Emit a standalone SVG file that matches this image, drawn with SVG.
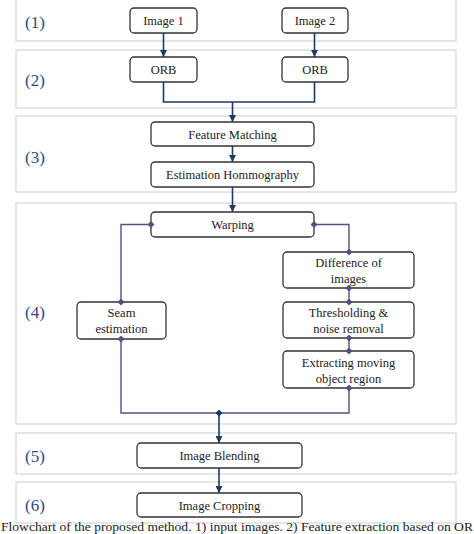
<svg xmlns="http://www.w3.org/2000/svg" width="474" height="534" viewBox="0 0 474 534">
<defs>
<style>
.panel{fill:#ffffff;stroke:#d4d6dc;stroke-width:1.2}
.node{fill:#ffffff;stroke:#333333;stroke-width:1.3}
.t{font-family:"Liberation Serif","Times New Roman",serif;font-size:12.5px;fill:#222222;text-anchor:middle}
.lbl{font-family:"Liberation Serif","Times New Roman",serif;font-size:17px;fill:#2f4b7c}
.arr{fill:none;stroke:#1f3b63;stroke-width:1.6}
.pc{fill:none;stroke:#5e4c80;stroke-width:1.4}
.cap{font-family:"Liberation Serif","Times New Roman",serif;font-size:13.5px;fill:#222222}
</style>
<marker id="ah" viewBox="0 0 10 10" refX="10" refY="5" markerWidth="7" markerHeight="7" markerUnits="userSpaceOnUse" orient="auto">
<path d="M0,0 L10,5 L0,10 z" fill="#1f3b63"/>
</marker>
<marker id="dm" viewBox="0 0 10 10" refX="5" refY="5" markerWidth="7" markerHeight="7" markerUnits="userSpaceOnUse" orient="auto">
<path d="M5,0 L10,5 L5,10 L0,5 z" fill="#5e4c80"/>
</marker>
<marker id="dmb" viewBox="0 0 10 10" refX="5" refY="5" markerWidth="7" markerHeight="7" markerUnits="userSpaceOnUse" orient="auto">
<path d="M5,0 L10,5 L5,10 L0,5 z" fill="#1f3b63"/>
</marker>
</defs>
<rect width="474" height="534" fill="#ffffff"/>
<g id="panels">
<rect class="panel" x="16" y="-4" width="440" height="45"/>
<rect class="panel" x="16" y="50" width="440" height="58"/>
<rect class="panel" x="16" y="116" width="440" height="76"/>
<rect class="panel" x="16" y="203" width="440" height="221"/>
<rect class="panel" x="16" y="433" width="440" height="41"/>
<rect class="panel" x="16" y="482" width="440" height="41"/>
<text class="lbl" x="25" y="28">(1)</text>
<text class="lbl" x="25" y="86">(2)</text>
<text class="lbl" x="25" y="163">(3)</text>
<text class="lbl" x="25" y="318">(4)</text>
<text class="lbl" x="25" y="462">(5)</text>
<text class="lbl" x="25" y="511">(6)</text>
</g>
<g id="n-image1"><rect class="node" x="130" y="8" width="67" height="25" rx="4"/><text class="t" x="163.5" y="25">Image  1</text></g>
<g id="n-image2"><rect class="node" x="282" y="8" width="66" height="25" rx="4"/><text class="t" x="315" y="25">Image  2</text></g>
<g id="n-orb1"><rect class="node" x="130" y="57" width="67" height="25" rx="4"/><text class="t" x="163.5" y="74">ORB</text></g>
<g id="n-orb2"><rect class="node" x="282" y="57" width="66" height="25" rx="4"/><text class="t" x="315" y="74">ORB</text></g>
<g id="n-fm"><rect class="node" x="151" y="122" width="163" height="24" rx="4"/><text class="t" x="232.5" y="138.5">Feature  Matching</text></g>
<g id="n-eh"><rect class="node" x="151" y="162" width="163" height="25" rx="4"/><text class="t" x="232.5" y="179">Estimation  Hommography</text></g>
<g id="n-warp"><rect class="node" x="151" y="212" width="163" height="25" rx="4"/><text class="t" x="232.5" y="229">Warping</text></g>
<g id="n-diff"><rect class="node" x="283" y="252" width="131" height="36" rx="4"/><text class="t" x="348.5" y="267">Difference  of</text><text class="t" x="348.5" y="283">images</text></g>
<g id="n-thr"><rect class="node" x="283" y="302" width="131" height="36" rx="4"/><text class="t" x="348.5" y="317">Thresholding  &amp;</text><text class="t" x="348.5" y="333">noise removal</text></g>
<g id="n-ext"><rect class="node" x="283" y="351" width="131" height="37" rx="4"/><text class="t" x="348.5" y="367">Extracting  moving</text><text class="t" x="348.5" y="383">object region</text></g>
<g id="n-seam"><rect class="node" x="77" y="302" width="89" height="37" rx="4"/><text class="t" x="121.5" y="317">Seam</text><text class="t" x="121.5" y="333">estimation</text></g>
<g id="n-blend"><rect class="node" x="137" y="443" width="165" height="25" rx="4"/><text class="t" x="219.5" y="460">Image  Blending</text></g>
<g id="n-crop"><rect class="node" x="137" y="493" width="165" height="24" rx="4"/><text class="t" x="219.5" y="510">Image  Cropping</text></g>
<g id="connectors">
<line class="arr" x1="163.5" y1="33" x2="163.5" y2="57" marker-end="url(#ah)"/>
<line class="arr" x1="314.5" y1="33" x2="314.5" y2="57" marker-end="url(#ah)"/>
<polyline class="arr" points="163.5,82 163.5,102 314.5,102 314.5,82"/>
<line class="arr" x1="232.5" y1="102" x2="232.5" y2="122" marker-end="url(#ah)"/>
<line class="arr" x1="232.5" y1="146" x2="232.5" y2="162" marker-end="url(#ah)"/>
<line class="arr" x1="232.5" y1="187" x2="232.5" y2="212" marker-end="url(#ah)"/>
<polyline class="pc" points="151,224.5 121,224.5 121,302" marker-start="url(#dm)" marker-end="url(#dm)"/>
<polyline class="pc" points="314,224.5 349,224.5 349,252" marker-start="url(#dm)" marker-end="url(#dm)"/>
<line class="pc" x1="349" y1="288" x2="349" y2="302" marker-start="url(#dm)" marker-end="url(#dm)"/>
<line class="pc" x1="349" y1="338" x2="349" y2="351" marker-start="url(#dm)" marker-end="url(#dm)"/>
<polyline class="pc" points="349,388 349,413 121,413 121,339" marker-start="url(#dm)" marker-end="url(#dm)"/>
<line class="arr" x1="219" y1="413" x2="219" y2="443" marker-start="url(#dmb)" marker-end="url(#ah)"/>
<line class="arr" x1="219" y1="468" x2="219" y2="493" marker-end="url(#ah)"/>
</g>
<text class="cap" x="1" y="531" textLength="472" lengthAdjust="spacingAndGlyphs">Flowchart of the proposed method. 1) input images. 2) Feature extraction based on OR</text>
</svg>
